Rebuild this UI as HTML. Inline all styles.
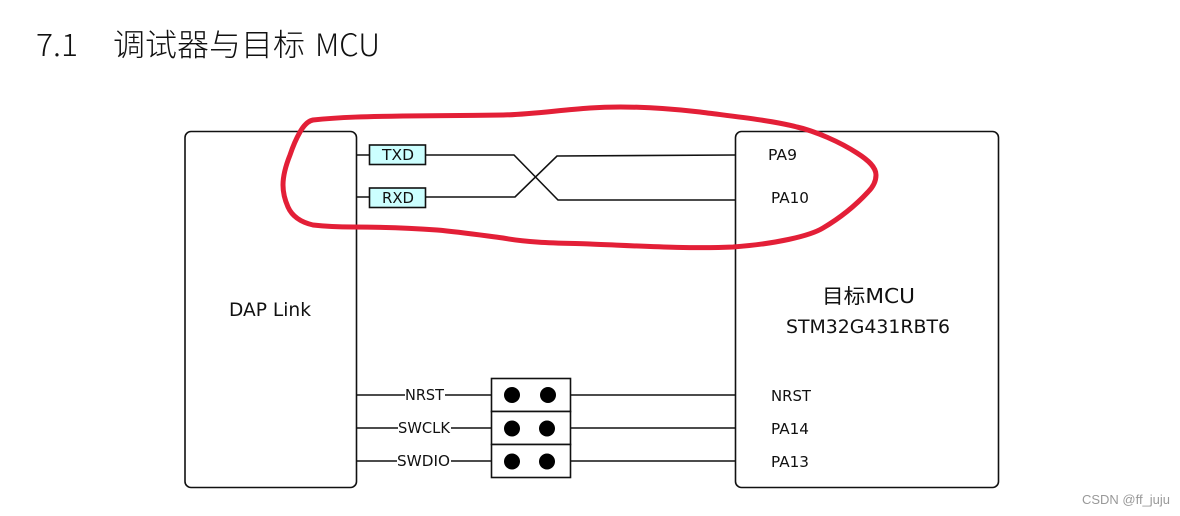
<!DOCTYPE html>
<html><head><meta charset="utf-8"><style>
html,body{margin:0;padding:0;background:#fff}
svg{display:block}
text{font-family:"DejaVu Sans","Noto Sans CJK SC",sans-serif;fill:#111}
</style></head><body>
<svg width="1180" height="516" viewBox="0 0 1180 516" xmlns="http://www.w3.org/2000/svg">
<text x="36" y="56" font-size="31" textLength="42" lengthAdjust="spacingAndGlyphs" style="font-family:'Noto Sans CJK SC',sans-serif;font-weight:300">7.1</text>
<text x="113" y="56" font-size="31" textLength="192" lengthAdjust="spacingAndGlyphs" style="font-family:'Noto Sans CJK SC',sans-serif;font-weight:300">调试器与目标</text>
<text x="315" y="56" font-size="31" textLength="65" lengthAdjust="spacingAndGlyphs" style="font-family:'Noto Sans CJK SC',sans-serif;font-weight:300">MCU</text>

<g fill="none" stroke="#111" stroke-width="1.6">
<rect x="185" y="131.500" width="171.500" height="356" rx="6"/>
<rect x="735.500" y="131.500" width="263" height="356" rx="6"/>
<path d="M356 155H369M356 197H369M426 155H514L558 200H735M426 197H515L557 156L735 155"/>
<path d="M356 395H405M445 395H491M356 428H398M451 428H491M356 461H397M451 461H491"/>
<path d="M571 395H735M571 428H735M571 461H735"/>
<rect x="369.500" y="145" width="56" height="19.500" fill="#ccffff"/>
<rect x="369.500" y="188" width="56" height="19.500" fill="#ccffff"/>
<rect x="491.500" y="378.500" width="79" height="33" fill="#fff"/>
<rect x="491.500" y="411.500" width="79" height="33" fill="#fff"/>
<rect x="491.500" y="444.500" width="79" height="33" fill="#fff"/>
</g>
<g fill="#000">
<circle cx="512" cy="395" r="8"/><circle cx="548" cy="395" r="8"/>
<circle cx="512" cy="428.500" r="8"/><circle cx="547" cy="428.500" r="8"/>
<circle cx="512" cy="461.500" r="8"/><circle cx="547" cy="461.500" r="8"/>
</g>
<g font-size="15">
<text x="382" y="160" textLength="32" lengthAdjust="spacingAndGlyphs">TXD</text>
<text x="382" y="203" textLength="32" lengthAdjust="spacingAndGlyphs">RXD</text>
<text x="405" y="400" textLength="39" lengthAdjust="spacingAndGlyphs">NRST</text>
<text x="398" y="433" textLength="52" lengthAdjust="spacingAndGlyphs">SWCLK</text>
<text x="397" y="466" textLength="53" lengthAdjust="spacingAndGlyphs">SWDIO</text>
<text x="768" y="160" textLength="29" lengthAdjust="spacingAndGlyphs">PA9</text>
<text x="771" y="203" textLength="38" lengthAdjust="spacingAndGlyphs">PA10</text>
<text x="771" y="401" textLength="40" lengthAdjust="spacingAndGlyphs">NRST</text>
<text x="771" y="434" textLength="38" lengthAdjust="spacingAndGlyphs">PA14</text>
<text x="771" y="467" textLength="38" lengthAdjust="spacingAndGlyphs">PA13</text>
</g>
<text x="229" y="316" font-size="19" textLength="82" lengthAdjust="spacingAndGlyphs">DAP Link</text>
<text x="822" y="303" font-size="20" textLength="93" lengthAdjust="spacingAndGlyphs">目标MCU</text>
<text x="786" y="333" font-size="19" textLength="164" lengthAdjust="spacingAndGlyphs">STM32G431RBT6</text>
<path d="M313 120C340 117 370 116.500 403 116C440 115.500 470 115.500 503 115C530 114.500 560 110 590 108C625 105.500 665 108 700 112C730 116 770 120 797 127C815 131 840 142 857 153C868 160 876 167 876 175C876 182 873 187 868 192C855 206 840 218 823 228C810 236 775 244 733 247C690 249 640 246 590 244C560 243 530 243 503 238C480 235 460 232 437 230C410 228 380 227 353 227C335 227 322 226 313 225C300 222 292 216 288 207C284 198 283 192 283 185C283 175 286 165 290 155C293 146 296 139 300 132C304 125 308 121 313 120Z" fill="none" stroke="#e31f37" stroke-width="5" stroke-linejoin="round"/>
<text x="1082" y="504" font-size="13" textLength="88" lengthAdjust="spacingAndGlyphs" style="font-family:'Liberation Sans',sans-serif;fill:#999">CSDN @ff_juju</text>
</svg>
</body></html>
